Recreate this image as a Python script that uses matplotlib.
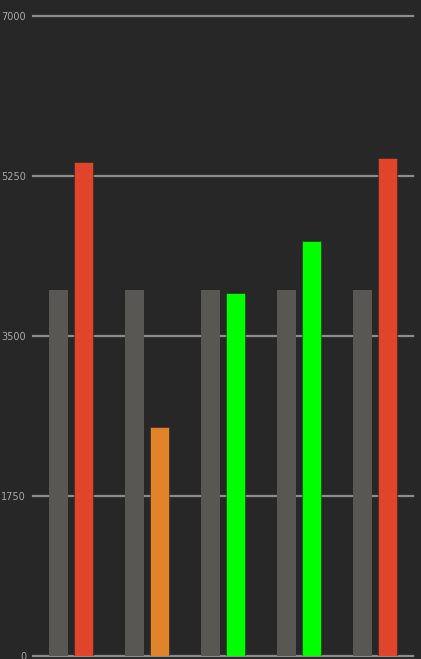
import matplotlib
matplotlib.use("Agg")
import matplotlib.pyplot as plt
import numpy as np

categories = ["A", "B", "C", "D", "E"]
baseline = [4000, 4000, 4000, 4000, 4000]
values = [5400, 2500, 3970, 4540, 5450]
value_colors = ["#e0452b", "#e0832a", "#00ff00", "#00ff00", "#e0452b"]
yticks = [0, 1750, 3500, 5250, 7000]

bg = "#272727"
fig = plt.figure(figsize=(4.21, 6.59), dpi=100, facecolor=bg)
ax = fig.add_axes([33/421, 3/659, 380/421, 640/659], facecolor=bg)

x = np.arange(len(categories))
w = 0.25
off = 0.171
ax.bar(x - off, baseline, width=w, color="#595754", zorder=3)
ax.bar(x + off, values, width=w, color=value_colors, edgecolor="#1e2a1e", linewidth=0.4, zorder=3)

ax.set_xlim(-0.5, len(categories) - 0.5)
ax.set_ylim(0, 7000)
ax.set_yticks(yticks)
ax.set_yticklabels([str(t) for t in yticks])
ax.yaxis.grid(True, color="#8c8c8c", linewidth=1.6, zorder=0)
for gl in ax.get_ygridlines():
    gl.set_clip_on(False)
ax.set_axisbelow(True)
ax.set_xticks([])
ax.tick_params(axis="y", length=0, pad=5, labelsize=7, labelcolor="#a8a8a8")
for s in ax.spines.values():
    s.set_visible(False)

fig.savefig("out.png", dpi=100, facecolor=bg)
